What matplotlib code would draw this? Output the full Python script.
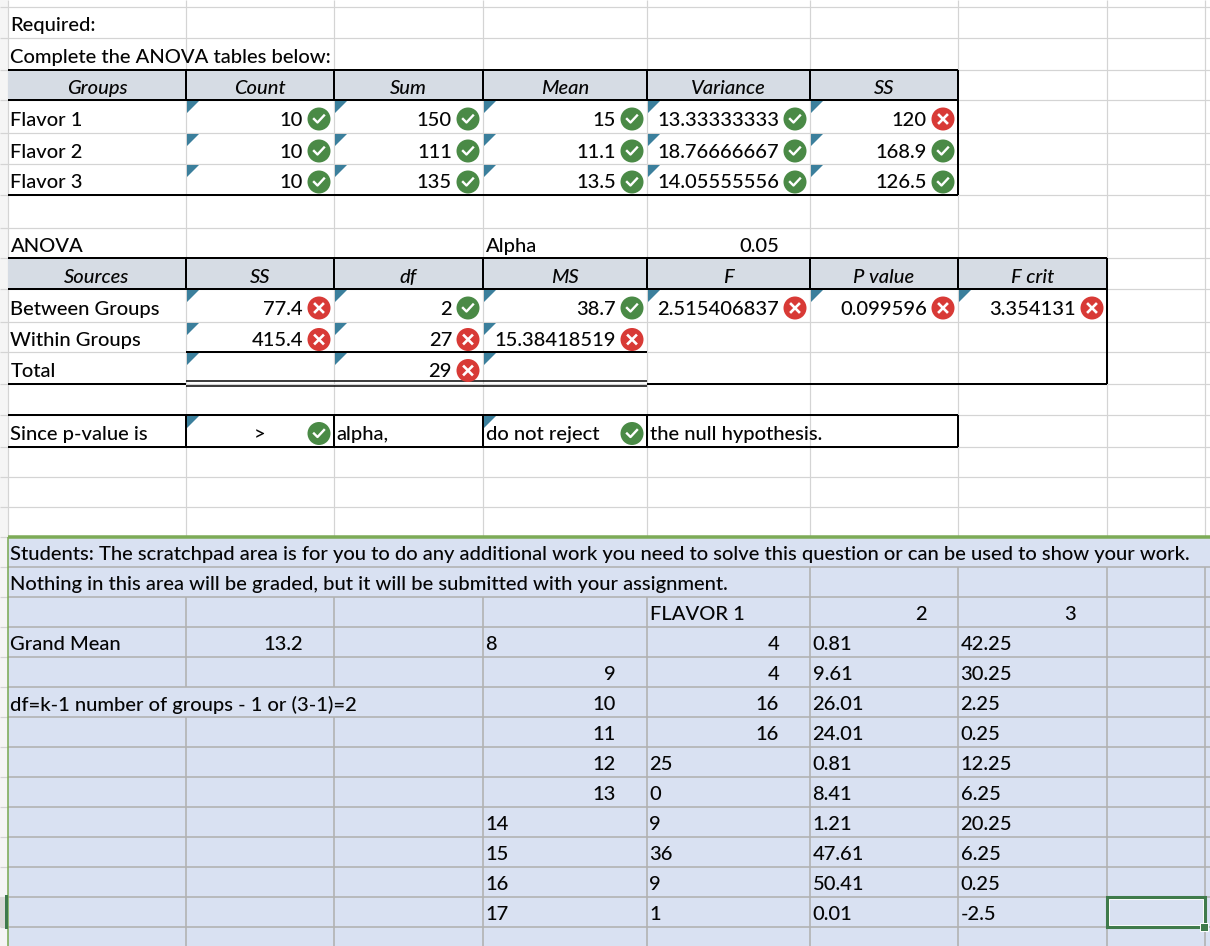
# ANOVA worksheet screenshot, rebuilt as cells in pixel coordinates
import matplotlib.pyplot as plt
from matplotlib.patches import Circle, Polygon, Rectangle

plt.rcParams["font.family"] = ["Lato", "DejaVu Sans"]

# -----------------------------
# DATA
# -----------------------------
groups = ["Flavor 1", "Flavor 2", "Flavor 3"]
group_headers = ["Groups", "Count", "Sum", "Mean", "Variance", "SS"]
counts = ["10", "10", "10"]
sums = ["150", "111", "135"]
means = ["15", "11.1", "13.5"]
variances = ["13.33333333", "18.76666667", "14.05555556"]
group_ss = ["120", "168.9", "126.5"]
group_ss_ok = [False, True, True]

anova_headers = ["Sources", "SS", "df", "MS", "F", "P value", "F crit"]
sources = ["Between Groups", "Within Groups", "Total"]
anova_ss = ["77.4", "415.4"]
anova_df = ["2", "27", "29"]
anova_df_ok = [True, False, False]
anova_ms = ["38.7", "15.38418519"]
anova_ms_ok = [True, False]
anova_first_row = ["2.515406837", "0.099596", "3.354131"]

scratch_a = ["8", "9", "10", "11", "12", "13", "14", "15", "16", "17"]
scratch_a_left = [True, False, False, False, False, False, True, True, True, True]
scratch_b = ["4", "4", "16", "16", "25", "0", "9", "36", "9", "1"]
scratch_b_left = [False, False, False, False, True, True, True, True, True, True]
scratch_c = ["0.81", "9.61", "26.01", "24.01", "0.81", "8.41", "1.21", "47.61", "50.41", "0.01"]
scratch_d = ["42.25", "30.25", "2.25", "0.25", "12.25", "6.25", "20.25", "6.25", "0.25", "-2.5"]

# -----------------------------
# LAYOUT
# -----------------------------
col_x = [8, 186, 334, 483, 647, 810, 958, 1107, 1205, 1210]
row_y = [7, 38, 70, 100, 133, 164, 195, 228, 258, 289, 322, 352, 384, 415, 447, 477,
         507, 537, 567, 597, 627, 657, 687, 717, 747, 777, 807, 837, 867, 897, 927, 946]

GRID = "#d4d4d4"
SCRATCH_GRID = "#b1b1b1"
SCRATCH_FILL = "#d9e1f2"
HEAD_FILL = "#d6dce4"
GREEN = "#4a8a46"
RED = "#d83a36"
TRI = "#3b7f9c"
SELECT = "#3f7a4b"
FS = 14.5

fig = plt.figure(figsize=(12.1, 9.46), dpi=100)
ax = fig.add_axes([0, 0, 1, 1])
ax.set_xlim(0, 1210)
ax.set_ylim(946, 0)
ax.axis("off")


def line(x0, y0, x1, y1, color="black", px=2.0, z=4):
    ax.plot([x0, x1], [y0, y1], color=color, lw=px * 0.72, solid_capstyle="butt", zorder=z)


def cell(col, row, s, how="right", style="normal"):
    left, right = col_x[col], col_x[col + 1]
    # text sits low in the upper cells, a bit less in the scratchpad
    mid = (row_y[row] + row_y[row + 1]) / 2 + (3.5 if row < 17 else 2.5)
    if how == "right":
        x = right - 31
    elif how == "left":
        x = left + 2.5
    else:
        x = (left + right) / 2
    ax.text(x, mid, s, ha=how, va="center", fontsize=FS, style=style, weight="medium",
            color="#050505", zorder=6)


def icon(col, row, ok):
    cx = col_x[col + 1] - 15
    cy = (row_y[row] + row_y[row + 1]) / 2 + 2.5
    ax.add_patch(Circle((cx, cy), 11.5, color=GREEN if ok else RED, zorder=6, lw=0))
    if ok:
        ax.plot([cx - 5, cx - 1.5, cx + 5], [cy, cy + 3.5, cy - 3.5], color="white", lw=1.7, zorder=7)
    else:
        ax.plot([cx - 4, cx + 4], [cy - 4, cy + 4], color="white", lw=1.9, zorder=7)
        ax.plot([cx - 4, cx + 4], [cy + 4, cy - 4], color="white", lw=1.9, zorder=7)


def marker(col, row):
    x, y = col_x[col] + 1, row_y[row] + 1
    ax.add_patch(Polygon([(x, y), (x + 12, y), (x, y + 12)], color=TRI, lw=0, zorder=5))


def value(col, row, s, ok):
    marker(col, row)
    cell(col, row, s)
    icon(col, row, ok)


# -----------------------------
# BACKGROUND AND GRID
# -----------------------------
ax.add_patch(Rectangle((0, 0), 8, 946, color="#f5f5f5", lw=0, zorder=0))
for y in row_y[:-1]:
    line(0, y, 1210, y, GRID, 1.2, 1)
for x in col_x[1:-1]:
    line(x, 0, x, 946, GRID, 1.2, 1)
line(8, 0, 8, 537, GRID, 1.2, 1)

ax.add_patch(Rectangle((col_x[0], row_y[2]), col_x[6] - col_x[0], row_y[3] - row_y[2],
                       color=HEAD_FILL, lw=0, zorder=2))
ax.add_patch(Rectangle((col_x[0], row_y[8]), col_x[7] - col_x[0], row_y[9] - row_y[8],
                       color=HEAD_FILL, lw=0, zorder=2))
ax.add_patch(Rectangle((col_x[0], row_y[17]), 1210 - col_x[0], 946 - row_y[17],
                       color=SCRATCH_FILL, lw=0, zorder=2))

# -----------------------------
# TOP TEXT AND GROUP TABLE
# -----------------------------
cell(0, 0, "Required:", "left")
cell(0, 1, "Complete the ANOVA tables below:", "left")

for i, h in enumerate(group_headers):
    cell(i, 2, h, "center", "italic")
for i, name in enumerate(groups):
    r = 3 + i
    cell(0, r, name, "left")
    value(1, r, counts[i], True)
    value(2, r, sums[i], True)
    value(3, r, means[i], True)
    value(4, r, variances[i], True)
    value(5, r, group_ss[i], group_ss_ok[i])

for r in (2, 3, 6):
    line(col_x[0], row_y[r], col_x[6], row_y[r])
for c in range(1, 7):
    line(col_x[c], row_y[2], col_x[c], row_y[3])
line(col_x[6], row_y[2], col_x[6], row_y[6])

# -----------------------------
# ANOVA TABLE
# -----------------------------
cell(0, 7, "ANOVA", "left")
cell(3, 7, "Alpha", "left")
cell(4, 7, "0.05")

for i, h in enumerate(anova_headers):
    cell(i, 8, h, "center", "italic")
for i, name in enumerate(sources):
    cell(0, 9 + i, name, "left")
for i, s in enumerate(anova_ss):
    value(1, 9 + i, s, False)
marker(1, 11)
for i, s in enumerate(anova_df):
    value(2, 9 + i, s, anova_df_ok[i])
for i, s in enumerate(anova_ms):
    value(3, 9 + i, s, anova_ms_ok[i])
marker(3, 11)
for i, s in enumerate(anova_first_row):
    value(4 + i, 9, s, False)

for r in (8, 9):
    line(col_x[0], row_y[r], col_x[7], row_y[r])
for c in range(1, 8):
    line(col_x[c], row_y[8], col_x[c], row_y[9])
line(col_x[7], row_y[8], col_x[7], row_y[12])
line(col_x[1], row_y[11], col_x[4], row_y[11])
line(col_x[0], row_y[12], col_x[1], row_y[12])
line(col_x[4], row_y[12], col_x[7], row_y[12])
line(col_x[1], row_y[12] - 2.5, col_x[4], row_y[12] - 2.5, px=1.5)
line(col_x[1], row_y[12] + 1.5, col_x[4], row_y[12] + 1.5, px=1.5)

# -----------------------------
# CONCLUSION ROW
# -----------------------------
cell(0, 13, "Since p-value is", "left")
marker(1, 13)
cell(1, 13, ">", "center")
icon(1, 13, True)
cell(2, 13, "alpha,", "left")
marker(3, 13)
cell(3, 13, "do not reject", "left")
icon(3, 13, True)
cell(4, 13, "the null hypothesis.", "left")

for r in (13, 14):
    line(col_x[0], row_y[r], col_x[6], row_y[r])
for c in (1, 2, 3, 4, 6):
    line(col_x[c], row_y[13], col_x[c], row_y[14])

# -----------------------------
# SCRATCHPAD
# -----------------------------
for r in range(18, 31):
    line(col_x[0], row_y[r], 1210, row_y[r], SCRATCH_GRID, 1.6, 3)
for c in range(1, 9):
    for r in range(18, 31):
        if r == 18 and c < 5:
            continue
        if r == 22 and c < 3:
            continue
        line(col_x[c], row_y[r], col_x[c], row_y[r + 1], SCRATCH_GRID, 1.6, 3)

line(col_x[0], row_y[17], 1210, row_y[17], "#7dab57", 3.5, 5)
line(col_x[0], row_y[17], col_x[0], 946, "#7dab57", 1.6, 5)

cell(0, 17, "Students: The scratchpad area is for you to do any additional work you need "
            "to solve this question or can be used to show your work.", "left")
cell(0, 18, "Nothing in this area will be graded, but it will be submitted with your assignment.", "left")
cell(4, 19, "FLAVOR 1", "left")
cell(5, 19, "2")
cell(6, 19, "3")
cell(0, 20, "Grand Mean", "left")
cell(1, 20, "13.2")
cell(0, 22, "df=k-1 number of groups - 1 or (3-1)=2", "left")

for i in range(len(scratch_a)):
    r = 20 + i
    cell(3, r, scratch_a[i], "left" if scratch_a_left[i] else "right")
    cell(4, r, scratch_b[i], "left" if scratch_b_left[i] else "right")
    cell(5, r, scratch_c[i], "left")
    cell(6, r, scratch_d[i], "left")

# selected cell and its row header
ax.add_patch(Rectangle((0, row_y[29]), 5, row_y[30] - row_y[29], color="#d8d8d6", lw=0, zorder=3))
ax.add_patch(Rectangle((5, row_y[29] - 2), 3, row_y[30] - row_y[29] + 4, color=SELECT, lw=0, zorder=6))
ax.add_patch(Rectangle((col_x[7] + 2, row_y[29] + 2), col_x[8] - col_x[7] - 4, row_y[30] - row_y[29] - 4,
                       fill=False, ec="white", lw=0.7, zorder=7))
ax.add_patch(Rectangle((col_x[7], row_y[29]), col_x[8] - col_x[7], row_y[30] - row_y[29],
                       fill=False, ec=SELECT, lw=2.2, zorder=7))
ax.add_patch(Rectangle((col_x[8] - 5, row_y[30] - 4), 8, 8, fc=SELECT, ec="white", lw=0.7, zorder=8))

fig.savefig("out.png", dpi=100)
